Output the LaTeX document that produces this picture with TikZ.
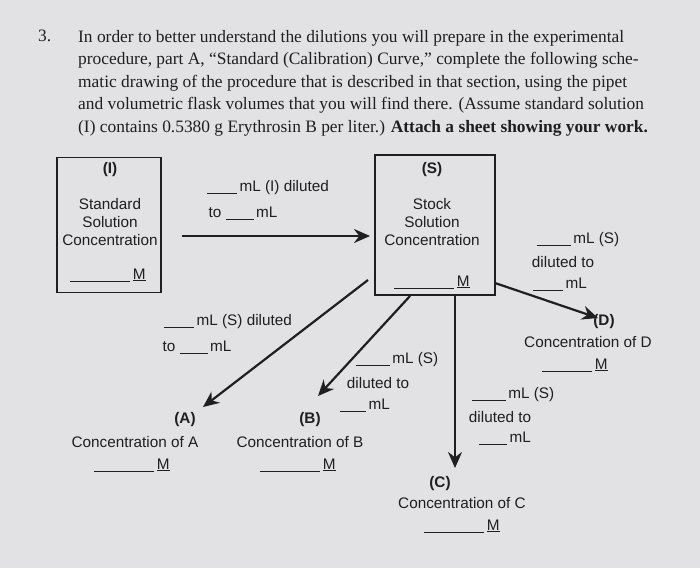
\documentclass[tikz,border=0pt]{standalone}
\usepackage{fontspec}
\setmainfont{Liberation Serif}
\newfontfamily\arialf{Liberation Sans}
\usetikzlibrary{arrows.meta}
\newcommand{\blk}[1]{\rule[-2pt]{#1pt}{0.6pt}}
\newcommand{\um}{\underline{M}}
\definecolor{paper}{RGB}{226,226,228}
\definecolor{ink}{RGB}{30,30,35}
\begin{document}
\begin{tikzpicture}[x=1pt,y=-1pt,
 lab/.style={font=\arialf\fontsize{15.3}{18}\selectfont,text=ink,inner sep=1pt},
 hd/.style={lab,font=\arialf\bfseries\fontsize{15.3}{18}\selectfont},
 box/.style={draw=ink,line width=1.3pt},
 arr/.style={draw=ink,line width=2.2pt,-{Stealth[length=16pt,width=14pt]}},
 para/.style={font=\fontsize{17.4}{22.5}\selectfont,text=ink,anchor=north west,inner sep=0pt,align=left}]
\fill[paper] (0,0) rectangle (700,568);
\useasboundingbox (0,0) rectangle (700,568);
\node[para] (num) at (38,30) {3.};
\node[para] (txt) at (78,30) {In order to better understand the dilutions you will prepare in the experimental\\
procedure, part A, “Standard (Calibration) Curve,” complete the following sche-\\
matic drawing of the procedure that is described in that section, using the pipet\\
and volumetric flask volumes that you will find there. (Assume standard solution\\
(I) contains 0.5380 g Erythrosin B per liter.) \textbf{Attach a sheet showing your work.}};
% boxes
\node[box,minimum width=104pt,minimum height=135pt] (I) at (109,225) {};
\node[box,minimum width=120pt,minimum height=140pt] (S) at (435,225) {};
\node[hd] (It) at (110,170) {(I)};
\node[lab,align=center] (Ic) at (110,222) {Standard\\Solution\\Concentration};
\node[lab] (Im) at (108,275) {\blk{60}\,\um};
\node[hd] (St) at (432,170) {(S)};
\node[lab,align=center] (Sc) at (432,222) {Stock\\Solution\\Concentration};
\node[lab] (Sm) at (432,282) {\blk{60}\,\um};
% arrows
\coordinate (i1) at (182,236); \coordinate (s1) at (370,236);
\draw[arr] (i1) -- (s1);
\coordinate (d0) at (495,283); \coordinate (d1) at (598,318);
\draw[arr] (d0) -- (d1);
\coordinate (a0) at (368,280); \coordinate (a1) at (203,407);
\draw[arr] (a0) -- (a1);
\coordinate (b0) at (410,296); \coordinate (b1) at (318,396);
\draw[arr] (b0) -- (b1);
\coordinate (c0) at (455,296); \coordinate (c1) at (455,468);
\draw[arr] (c0) -- (c1);
% labels
\node[lab] (l1) at (268,188) {\blk{30}\,mL (I) diluted};
\node[lab] (l2) at (243,213) {to \blk{28}\,mL};
\node[lab] (r1) at (578,240) {\blk{34}\,mL (S)};
\node[lab] (r2) at (563,262) {diluted to};
\node[lab] (r3) at (560,284) {\blk{30}\,mL};
\node[hd] (Dt) at (604,322) {(D)};
\node[lab] (Dc) at (588,342) {Concentration of D};
\node[lab] (Dm) at (575,365) {\blk{50}\,\um};
\node[lab] (al1) at (228,322) {\blk{30}\,mL (S) diluted};
\node[lab] (al2) at (197,347) {to \blk{28}\,mL};
\node[hd] (At) at (185,420) {(A)};
\node[lab] (Ac) at (135,442) {Concentration of A};
\node[lab] (Am) at (132,465) {\blk{60}\,\um};
\node[hd] (Bt) at (310,420) {(B)};
\node[lab] (Bc) at (300,442) {Concentration of B};
\node[lab] (Bm) at (298,465) {\blk{60}\,\um};
\node[lab] (m1) at (397,360) {\blk{34}\,mL (S)};
\node[lab] (m2) at (378,383) {diluted to};
\node[lab] (m3) at (365,405) {\blk{26}\,mL};
\node[lab] (n1) at (513,395) {\blk{34}\,mL (S)};
\node[lab] (n2) at (500,417) {diluted to};
\node[lab] (n3) at (505,438) {\blk{28}\,mL};
\node[hd] (Ct) at (440,484) {(C)};
\node[lab] (Cc) at (462,503) {Concentration of C};
\node[lab] (Cm) at (462,526) {\blk{60}\,\um};
\end{tikzpicture}
\end{document}
